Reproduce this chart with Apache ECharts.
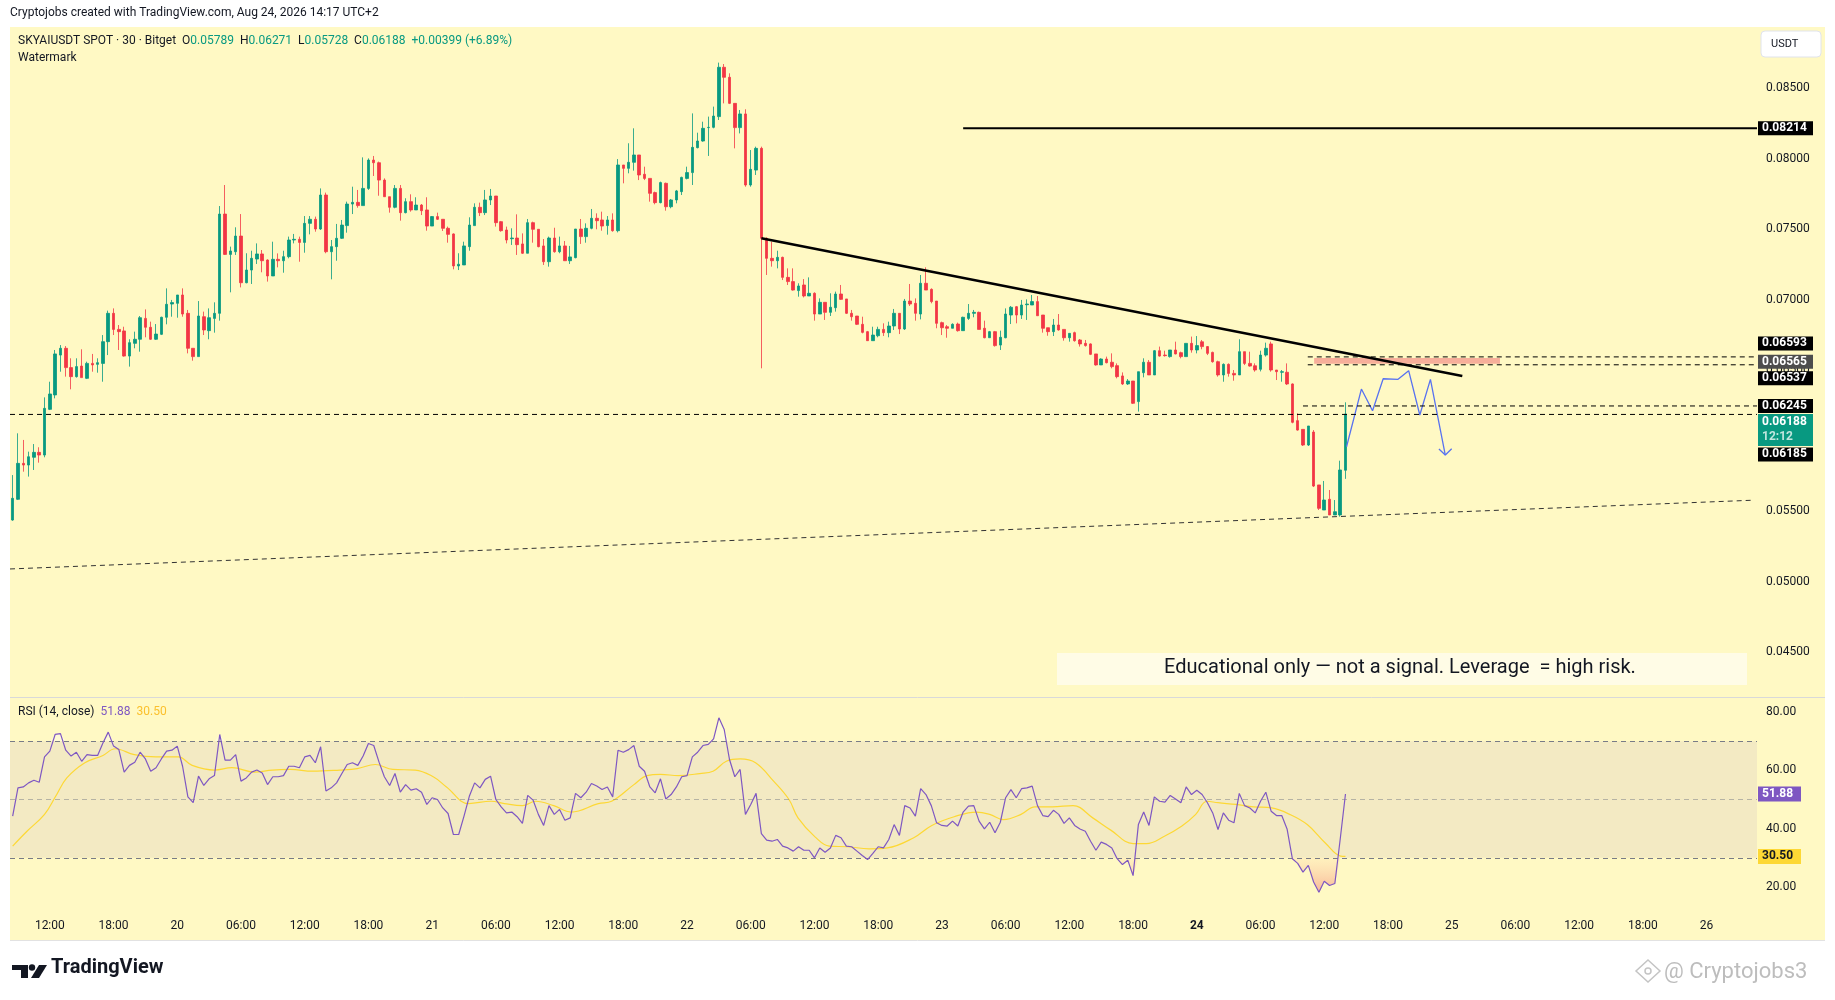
<!DOCTYPE html>
<html>
<head>
<meta charset="utf-8">
<title>SKYAIUSDT 30m</title>
<style>
  html, body { margin: 0; padding: 0; background: #fff; }
  #chart { width: 1835px; height: 1000px; }
</style>
</head>
<body>
<div id="chart"></div>
<script src="https://cdn.jsdelivr.net/npm/echarts@6/dist/echarts.min.js"></script>
<script>
// 30 min candles, Aug 19 08:30 -> Aug 24 14:00
var openP = [
  0.05436,0.05583,0.05838,0.05826,0.05881,0.05916,0.05897,0.06221,0.06323,0.06606,
  0.06654,0.06517,0.06453,0.06528,0.06441,0.06547,0.06540,0.06547,0.06701,0.06902,
  0.06788,0.06777,0.06599,0.06689,0.06718,0.06866,0.06803,0.06718,0.06753,0.06874,
  0.06968,0.06973,0.07032,0.06902,0.06654,0.06595,0.06878,0.06779,0.06866,0.06902,
  0.07606,0.07320,0.07339,0.07450,0.07119,0.07209,0.07287,0.07323,0.07280,0.07167,
  0.07285,0.07275,0.07304,0.07422,0.07427,0.07405,0.07540,0.07569,0.07500,0.07741,
  0.07339,0.07375,0.07434,0.07524,0.07677,0.07689,0.07666,0.07788,0.07989,0.07970,
  0.07847,0.07729,0.07654,0.07788,0.07616,0.07694,0.07635,0.07670,0.07635,0.07521,
  0.07588,0.07569,0.07505,0.07465,0.07238,0.07245,0.07375,0.07524,0.07654,0.07616,
  0.07706,0.07734,0.07552,0.07493,0.07431,0.07436,0.07394,0.07328,0.07545,0.07498,
  0.07380,0.07268,0.07436,0.07339,0.07380,0.07275,0.07297,0.07500,0.07446,0.07505,
  0.07576,0.07564,0.07524,0.07564,0.07488,0.07954,0.07930,0.07973,0.08025,0.07888,
  0.07859,0.07758,0.07687,0.07824,0.07658,0.07706,0.07765,0.07859,0.07900,0.08077,
  0.08124,0.08219,0.08221,0.08297,0.08647,0.08576,0.08391,0.08219,0.08316,0.07812,
  0.07918,0.08072,0.07434,0.07292,0.07275,0.07299,0.07157,0.07127,0.07063,0.07103,
  0.07025,0.07044,0.06897,0.06980,0.06909,0.06942,0.07039,0.07004,0.06902,0.06883,
  0.06824,0.06772,0.06708,0.06743,0.06788,0.06765,0.06812,0.06902,0.06791,0.06989,
  0.06973,0.06897,0.07115,0.07072,0.06989,0.06836,0.06807,0.06796,0.06826,0.06779,
  0.06866,0.06902,0.06909,0.06796,0.06729,0.06772,0.06677,0.06729,0.06890,0.06949,
  0.06890,0.06963,0.06961,0.06985,0.06890,0.06800,0.06772,0.06819,0.06788,0.06729,
  0.06765,0.06713,0.06689,0.06685,0.06614,0.06536,0.06578,0.06555,0.06531,0.06458,
  0.06401,0.06422,0.06276,0.06481,0.06555,0.06465,0.06637,0.06606,0.06595,0.06642,
  0.06623,0.06595,0.06689,0.06642,0.06700,0.06666,0.06625,0.06559,0.06465,0.06540,
  0.06476,0.06465,0.06630,0.06547,0.06530,0.06505,0.06606,0.06685,0.06500,0.06484,
  0.06484,0.06401,0.06141,0.06079,0.05968,0.06060,0.05685,0.05507,0.05583,0.05472,
  0.05472,0.05789
];
var highP = [
  0.05755,0.06051,0.06004,0.05921,0.05975,0.05952,0.06306,0.06417,0.06642,0.06677,
  0.06670,0.06583,0.06583,0.06647,0.06559,0.06614,0.06583,0.06748,0.06921,0.06937,
  0.06819,0.06807,0.06718,0.06772,0.06883,0.06930,0.06843,0.06826,0.06878,0.07079,
  0.06997,0.07032,0.07079,0.06926,0.06654,0.06989,0.06914,0.06937,0.06980,0.07663,
  0.07812,0.07375,0.07512,0.07606,0.07328,0.07346,0.07398,0.07351,0.07285,0.07410,
  0.07327,0.07346,0.07446,0.07465,0.07446,0.07592,0.07592,0.07588,0.07788,0.07758,
  0.07422,0.07536,0.07564,0.07694,0.07800,0.07777,0.08008,0.08001,0.08018,0.07978,
  0.07859,0.07729,0.07812,0.07812,0.07718,0.07746,0.07725,0.07677,0.07725,0.07592,
  0.07616,0.07569,0.07517,0.07469,0.07328,0.07410,0.07583,0.07682,0.07687,0.07777,
  0.07784,0.07734,0.07557,0.07517,0.07505,0.07604,0.07469,0.07571,0.07552,0.07498,
  0.07429,0.07446,0.07509,0.07446,0.07415,0.07380,0.07500,0.07571,0.07540,0.07642,
  0.07611,0.07623,0.07592,0.07611,0.07996,0.07954,0.08108,0.08214,0.08025,0.07942,
  0.07859,0.07765,0.07836,0.07829,0.07713,0.07777,0.07871,0.07942,0.08320,0.08183,
  0.08261,0.08297,0.08368,0.08680,0.08670,0.08604,0.08391,0.08344,0.08349,0.08060,
  0.08084,0.08084,0.07441,0.07410,0.07346,0.07304,0.07221,0.07221,0.07115,0.07145,
  0.07157,0.07051,0.07008,0.06980,0.07044,0.07056,0.07103,0.07004,0.06926,0.06883,
  0.06878,0.06777,0.06807,0.06807,0.06831,0.06843,0.06933,0.06902,0.07004,0.07110,
  0.07008,0.07174,0.07228,0.07079,0.06989,0.06843,0.06819,0.06831,0.06836,0.06878,
  0.06968,0.06926,0.06914,0.06850,0.06777,0.06777,0.06779,0.06937,0.06954,0.06954,
  0.06997,0.07001,0.07032,0.07025,0.06890,0.06800,0.06862,0.06897,0.06788,0.06760,
  0.06772,0.06720,0.06713,0.06689,0.06614,0.06583,0.06595,0.06618,0.06547,0.06483,
  0.06436,0.06422,0.06488,0.06583,0.06571,0.06642,0.06666,0.06637,0.06642,0.06701,
  0.06630,0.06689,0.06737,0.06741,0.06713,0.06670,0.06630,0.06566,0.06547,0.06547,
  0.06500,0.06718,0.06630,0.06630,0.06547,0.06637,0.06694,0.06701,0.06500,0.06500,
  0.06547,0.06405,0.06193,0.06079,0.06103,0.06074,0.05685,0.05713,0.05649,0.05578,
  0.05857,0.06271
];
var lowP = [
  0.05431,0.05578,0.05779,0.05744,0.05791,0.05843,0.05881,0.06216,0.06299,0.06488,
  0.06453,0.06363,0.06446,0.06446,0.06436,0.06488,0.06481,0.06417,0.06606,0.06748,
  0.06642,0.06595,0.06524,0.06654,0.06630,0.06732,0.06713,0.06713,0.06748,0.06824,
  0.06878,0.06871,0.06878,0.06618,0.06566,0.06595,0.06748,0.06718,0.06765,0.06850,
  0.07316,0.07051,0.07316,0.07086,0.07115,0.07110,0.07252,0.07193,0.07127,0.07167,
  0.07228,0.07190,0.07292,0.07398,0.07268,0.07332,0.07462,0.07481,0.07493,0.07328,
  0.07143,0.07275,0.07429,0.07474,0.07606,0.07651,0.07666,0.07777,0.07876,0.07736,
  0.07729,0.07616,0.07647,0.07559,0.07611,0.07623,0.07635,0.07599,0.07488,0.07521,
  0.07564,0.07486,0.07403,0.07214,0.07209,0.07245,0.07346,0.07524,0.07592,0.07599,
  0.07670,0.07517,0.07481,0.07398,0.07387,0.07316,0.07323,0.07328,0.07403,0.07370,
  0.07245,0.07233,0.07332,0.07328,0.07275,0.07252,0.07292,0.07394,0.07403,0.07498,
  0.07498,0.07488,0.07460,0.07481,0.07476,0.07824,0.07895,0.07914,0.07847,0.07847,
  0.07694,0.07675,0.07682,0.07630,0.07647,0.07682,0.07741,0.07852,0.07812,0.08072,
  0.08119,0.08018,0.08214,0.08273,0.08391,0.08386,0.08072,0.08178,0.07800,0.07800,
  0.07883,0.06512,0.07174,0.07233,0.07221,0.07138,0.07103,0.07063,0.07020,0.07015,
  0.07025,0.06850,0.06897,0.06855,0.06883,0.06914,0.06997,0.06897,0.06850,0.06819,
  0.06760,0.06708,0.06708,0.06732,0.06741,0.06732,0.06784,0.06755,0.06784,0.06954,
  0.06850,0.06859,0.07067,0.06973,0.06796,0.06748,0.06729,0.06796,0.06772,0.06779,
  0.06855,0.06874,0.06788,0.06725,0.06729,0.06666,0.06642,0.06725,0.06826,0.06831,
  0.06862,0.06855,0.06961,0.06885,0.06765,0.06743,0.06741,0.06779,0.06708,0.06701,
  0.06701,0.06666,0.06666,0.06606,0.06531,0.06536,0.06547,0.06512,0.06441,0.06394,
  0.06394,0.06259,0.06205,0.06448,0.06465,0.06465,0.06595,0.06595,0.06588,0.06611,
  0.06583,0.06595,0.06623,0.06618,0.06647,0.06606,0.06552,0.06453,0.06417,0.06453,
  0.06424,0.06465,0.06535,0.06524,0.06488,0.06490,0.06595,0.06488,0.06429,0.06417,
  0.06394,0.06122,0.06070,0.05961,0.05961,0.05670,0.05507,0.05507,0.05472,0.05472,
  0.05460,0.05728
];
var closeP = [
  0.05590,0.05838,0.05826,0.05885,0.05916,0.05897,0.06228,0.06330,0.06614,0.06654,
  0.06517,0.06453,0.06524,0.06446,0.06547,0.06536,0.06552,0.06701,0.06902,0.06788,
  0.06772,0.06599,0.06694,0.06718,0.06871,0.06803,0.06718,0.06755,0.06874,0.06966,
  0.06978,0.07032,0.06897,0.06654,0.06595,0.06883,0.06784,0.06871,0.06902,0.07606,
  0.07320,0.07344,0.07450,0.07119,0.07209,0.07292,0.07323,0.07275,0.07167,0.07285,
  0.07275,0.07304,0.07422,0.07427,0.07405,0.07540,0.07569,0.07500,0.07741,0.07339,
  0.07375,0.07434,0.07528,0.07677,0.07689,0.07666,0.07788,0.07989,0.07970,0.07847,
  0.07729,0.07654,0.07788,0.07616,0.07694,0.07635,0.07670,0.07630,0.07521,0.07588,
  0.07569,0.07505,0.07462,0.07238,0.07250,0.07380,0.07528,0.07654,0.07616,0.07706,
  0.07734,0.07545,0.07488,0.07422,0.07436,0.07389,0.07328,0.07545,0.07498,0.07375,
  0.07268,0.07436,0.07339,0.07380,0.07275,0.07302,0.07500,0.07446,0.07505,0.07576,
  0.07559,0.07521,0.07564,0.07488,0.07954,0.07930,0.07973,0.08025,0.07883,0.07859,
  0.07753,0.07687,0.07829,0.07658,0.07706,0.07770,0.07866,0.07900,0.08079,0.08124,
  0.08214,0.08221,0.08301,0.08647,0.08576,0.08391,0.08219,0.08316,0.07812,0.07923,
  0.08072,0.07434,0.07292,0.07275,0.07299,0.07157,0.07127,0.07067,0.07096,0.07025,
  0.07044,0.06897,0.06980,0.06909,0.06945,0.07039,0.07001,0.06902,0.06878,0.06824,
  0.06767,0.06708,0.06748,0.06788,0.06765,0.06812,0.06902,0.06791,0.06989,0.06968,
  0.06902,0.07115,0.07067,0.06985,0.06831,0.06800,0.06796,0.06824,0.06779,0.06874,
  0.06902,0.06909,0.06788,0.06729,0.06772,0.06673,0.06732,0.06897,0.06945,0.06890,
  0.06961,0.06968,0.06985,0.06885,0.06796,0.06772,0.06819,0.06784,0.06729,0.06760,
  0.06708,0.06685,0.06673,0.06611,0.06536,0.06578,0.06552,0.06524,0.06453,0.06401,
  0.06422,0.06264,0.06488,0.06555,0.06465,0.06637,0.06599,0.06602,0.06642,0.06614,
  0.06595,0.06689,0.06642,0.06673,0.06666,0.06618,0.06559,0.06465,0.06540,0.06476,
  0.06465,0.06630,0.06547,0.06528,0.06500,0.06606,0.06654,0.06500,0.06488,0.06488,
  0.06401,0.06129,0.06074,0.05968,0.06103,0.05677,0.05519,0.05578,0.05472,0.05495,
  0.05791,0.06188
];

var rsiVals = [
  44.3,54,54.3,55.7,56.6,55.9,64.6,66.6,72.3,72.6,
  66.9,64.9,66.2,63.1,65.4,65.1,65.1,69.4,73.1,68.3,
  67.1,59.4,61.7,62.8,66.2,63.9,59.7,60.9,63.9,66.6,
  66.9,68.3,61.4,50.9,48.9,58,54.8,57.1,58.2,72.3,
  63.5,63.5,65.4,56.3,57.4,59.4,60.1,59.1,55.1,57.8,
  57.8,58.2,61.4,61.4,60.9,64.6,65.1,62.6,68.1,52.9,
  54,55.7,58.9,62,62.6,61.7,64.9,69.2,68.5,62.8,
  57.8,54.8,58.9,52.5,55.1,53.2,53.7,52.5,48.3,50.6,
  50,47.1,45.2,38,38,44.3,51.1,55.7,54,56.9,
  58,50,47.5,45.4,45.7,44.1,41.8,51.4,49.8,44.9,
  41.1,47.9,44.9,46.6,42.9,43.7,52.1,50.6,52.5,55.5,
  54.6,53.4,54.3,50.9,66.9,66.2,67.1,68.5,61.4,59.7,
  54.3,52.3,57.1,50.2,51.7,54.3,57.8,58.2,64.6,66.2,
  68.5,68.9,70.8,78,74,63.7,57.8,60.3,44.9,48.3,
  52.1,38.3,36.1,35.7,36.3,34,33.4,32.3,33.8,32.6,
  32.6,30,33.4,31.9,33.4,37.7,36.9,34,33.8,32.3,
  30.8,29.4,31.5,33.8,33.4,36.3,41.4,37.7,47.9,47.1,
  44.3,53.7,51.7,47.9,42,41.1,40.9,42.6,40.9,45.7,
  47.7,47.9,42.6,39.9,42.2,38.6,42.2,50.6,53.4,50.6,
  53.7,54,54.6,47.9,44.5,44.1,46.3,44.9,41.8,43.7,
  41.1,39.9,39.1,35.7,32.6,35.4,34.6,33.4,29.7,27.7,
  29.2,23.9,41.4,45.7,41.1,50.9,49.4,49.1,51.4,50.2,
  48.9,54.3,51.7,53.2,51.7,48.9,45.4,39.7,45.4,42.9,
  42,52.1,47.9,47.1,45.4,49.4,52.5,46,44.5,44.5,
  39.9,29.7,28.1,25.1,27.4,21.7,18.2,22,20.5,21.2,
  36.3,51.88
];
var rsiMaPts = [
  [0,34.0],[2.7,39.1],[6,44.9],[8.1,51.1],[10.2,57.4],[13.6,62.6],[17,65.1],[19.3,67.4],
  [22.9,65.4],[27,64.6],[31.2,64.6],[33.8,61.7],[38,60.1],[41.3,60.9],[45.5,59.4],[48.9,60.1],
  [52.3,60.3],[56.5,59.7],[61.6,60.1],[64.9,60.6],[68.3,62.0],[71.6,60.3],[75.8,60.1],[79.2,57.8],
  [81.7,54.3],[85.9,48.6],[90.1,49.4],[92.6,48.6],[96,47.9],[98.5,49.4],[101.9,47.9],[105.2,45.7],
  [110.3,48.6],[112.8,49.4],[117,55.1],[119.5,58.2],[122,58.6],[125.4,58.2],[129.4,58.9],[131.9,59.7],
  [134.4,63.1],[137,63.9],[139.9,62.6],[143.3,56.3],[146.2,50.0],[147.9,43.7],[151.1,37.2],[153.8,34.0],
  [157.2,33.8],[161.3,33.1],[164.7,33.4],[169.7,36.9],[173.1,41.1],[177.3,44.1],[181.5,45.7],[184,44.9],
  [186.6,43.1],[189.9,44.9],[192.5,47.5],[195.8,47.5],[199.7,47.9],[203.4,43.7],[206.8,39.5],[211,34.9],
  [213.5,34.9],[216.9,37.4],[220.2,40.9],[222.8,44.9],[224.9,49.4],[227,48.9],[230.4,48.3],[233.7,47.5],
  [237.1,47.1],[240.5,44.9],[243.8,41.4],[247.2,35.1],[250.1,30.6],[251,30.5]
];

var priceTicks = [0.045, 0.050, 0.055, 0.060, 0.065, 0.070, 0.075, 0.080, 0.085];
var rsiTicks = [20, 40, 60, 80];

// drawings, [bar index, price]
var resistanceLine = [[179, 0.08214], [328.5, 0.08214]];
var trendLine = [[141, 0.07434], [273, 0.06457]];
var supportLine = [[-0.5, 0.05089], [327.3, 0.05576]];
var levelLines = [
  [[-0.5, 0.06185], [328.5, 0.06185]],
  [[243, 0.06245], [328.5, 0.06245]],
  [[243.9, 0.06593], [328.5, 0.06593]],
  [[243.9, 0.06537], [328.5, 0.06537]]
];
var zoneBox = [[245.1, 0.06585], [280.1, 0.06545]];
var projectionPath = [[251.2,0.05956],[254.0,0.06365],[256.1,0.06211],[258.1,0.06438],
  [260.9,0.06434],[262.9,0.06495],[265.0,0.06181],[267.0,0.06434],[269.8,0.05897]];
var arrowHead = [[268.6,0.05940],[269.8,0.05897],[271.0,0.05942]];

var priceTags = [
  { v: 0.08214, text: '0.08214', bg: '#000000', dy: 0 },
  { v: 0.06593, text: '0.06593', bg: '#000000', dy: -13.5 },
  { v: 0.06565, text: '0.06565', bg: '#4d4d4d', dy: 1 },
  { v: 0.06537, text: '0.06537', bg: '#000000', dy: 13.5 },
  { v: 0.06245, text: '0.06245', bg: '#000000', dy: 0 },
  { v: 0.06188, text: '0.06188', bg: '#089981', dy: 8, sub: '12:12' },
  { v: 0.06185, text: '0.06185', bg: '#000000', dy: 40 }
];
var rsiTags = [
  { v: 51.88, text: '51.88', bg: '#7E57C2', fg: '#ffffff' },
  { v: 30.50, text: '30.50', bg: '#FDD835', fg: '#131722' }
];

var slotCount = 329;
var startMin = 8 * 60 + 30;
function pad(n) { return n < 10 ? '0' + n : '' + n; }
var timeCats = [];
for (var i = 0; i < slotCount; i++) {
  var t = startMin + 30 * i;
  var m = t % 1440;
  timeCats.push((19 + Math.floor(t / 1440)) + ' ' + pad(Math.floor(m / 60)) + ':' + pad(m % 60));
}

var candleData = openP.map(function (o, k) {
  return [o, closeP[k], lowP[k], highP[k]];
});
var overSold = rsiVals.map(function (v) { return v < 30 ? v : 30; });
var overBought = rsiVals.map(function (v) { return v > 70 ? v : 70; });

var FONT = 'Roboto, "Noto Sans", sans-serif';
var INK = '#131722';

var dom = document.getElementById('chart');
var myChart = echarts.init(dom);

function segSeries(pts, color, width, dashed) {
  return {
    type: 'line', xAxisIndex: 2, yAxisIndex: 0, data: pts,
    symbol: 'none', silent: true, z: 4,
    lineStyle: { color: color, width: width, type: dashed ? [5, 4] : 'solid' }
  };
}

var series = [
  {
    type: 'candlestick', xAxisIndex: 0, yAxisIndex: 0, data: candleData,
    barWidth: 3, z: 3,
    itemStyle: { color: '#089981', color0: '#F23645', borderColor: '#089981', borderColor0: '#F23645', borderWidth: 0.8 }
  },
  segSeries(resistanceLine, '#000000', 2, false),
  segSeries(trendLine, '#000000', 2.5, false),
  segSeries(supportLine, '#333333', 1, true),
  {
    type: 'line', xAxisIndex: 2, yAxisIndex: 0, data: [], symbol: 'none', silent: true,
    markArea: {
      silent: true,
      itemStyle: { color: 'rgba(244,150,140,0.75)' },
      data: [[{ coord: zoneBox[0] }, { coord: zoneBox[1] }]]
    }
  },
  segSeries(projectionPath, '#5872F0', 1.3, false),
  segSeries(arrowHead, '#5872F0', 1.3, false),
  // RSI pane
  {
    type: 'line', xAxisIndex: 1, yAxisIndex: 1, data: overBought, symbol: 'none', silent: true,
    lineStyle: { width: 0 },
    areaStyle: { origin: 70, color: 'rgba(255,255,255,0.45)' }
  },
  {
    type: 'line', xAxisIndex: 1, yAxisIndex: 1, data: overSold, symbol: 'none', silent: true,
    lineStyle: { width: 0 },
    areaStyle: {
      origin: 30,
      color: new echarts.graphic.LinearGradient(0, 0, 0, 1, [
        { offset: 0, color: 'rgba(255,215,170,0.35)' },
        { offset: 1, color: 'rgba(242,120,110,0.75)' }
      ])
    }
  },
  {
    type: 'line', xAxisIndex: 3, yAxisIndex: 1, data: rsiMaPts, symbol: 'none', silent: true,
    smooth: 0.4, z: 4,
    lineStyle: { color: '#FDD835', width: 1.2 }
  },
  {
    type: 'line', xAxisIndex: 1, yAxisIndex: 1, data: rsiVals, symbol: 'none', silent: true, z: 5,
    lineStyle: { color: '#7E57C2', width: 1.2 },
    markArea: {
      silent: true,
      itemStyle: { color: 'rgba(126,87,194,0.09)' },
      data: [[{ yAxis: 70 }, { yAxis: 30 }]]
    },
    markLine: {
      silent: true, symbol: 'none', label: { show: false },
      data: [
        { yAxis: 70, lineStyle: { color: '#787B86', type: [5, 4], width: 1 } },
        { yAxis: 50, lineStyle: { color: 'rgba(120,123,134,0.5)', type: [5, 4], width: 1 } },
        { yAxis: 30, lineStyle: { color: '#787B86', type: [5, 4], width: 1 } }
      ]
    }
  }
];
levelLines.forEach(function (seg) { series.push(segSeries(seg, '#000000', 1, true)); });

var option = {
  animation: false,
  backgroundColor: '#ffffff',
  textStyle: { fontFamily: FONT },
  title: [
    { text: 'Cryptojobs created with TradingView.com, Aug 24, 2026 14:17 UTC+2', left: 10, top: 7, padding: 0,
      textStyle: { fontSize: 12, fontWeight: 'normal', color: INK, fontFamily: FONT } },
    { text: '{a|SKYAIUSDT SPOT · 30 · Bitget}  {a|O}{g|0.05789}  {a|H}{g|0.06271}  {a|L}{g|0.05728}  {a|C}{g|0.06188}  {g|+0.00399 (+6.89%)}',
      left: 18, top: 35, padding: 0,
      textStyle: { fontSize: 12, fontWeight: 'normal', fontFamily: FONT,
        rich: { a: { color: INK, fontSize: 12, fontFamily: FONT }, g: { color: '#089981', fontSize: 12, fontFamily: FONT } } } },
    { text: 'Watermark', left: 18, top: 52, padding: 0,
      textStyle: { fontSize: 12, fontWeight: 'normal', color: INK, fontFamily: FONT } },
    { text: '{a|RSI (14, close)}  {p|51.88}  {y|30.50}', left: 18, top: 706, padding: 0,
      textStyle: { fontSize: 12, fontWeight: 'normal', fontFamily: FONT,
        rich: { a: { color: INK, fontSize: 12, fontFamily: FONT }, p: { color: '#7E57C2', fontSize: 12, fontFamily: FONT }, y: { color: '#FBC02D', fontSize: 12, fontFamily: FONT } } } },
    { text: 'Educational only — not a signal. Leverage  = high risk.', left: 1400, top: 658, padding: 0, textAlign: 'center',
      textStyle: { fontSize: 20, fontWeight: 'normal', color: INK, fontFamily: FONT } },
    { text: 'TradingView', left: 51, top: 958, padding: 0,
      textStyle: { fontSize: 20, fontWeight: 'bold', color: INK, fontFamily: FONT } },
    { text: '@ Cryptojobs3', left: 1664, top: 961, padding: 0,
      textStyle: { fontSize: 22, fontWeight: 'normal', color: '#bdbdbd', fontFamily: FONT } }
  ],
  grid: [
    { left: 10, top: 27, width: 1747, height: 670 },
    { left: 10, top: 697, width: 1747, height: 208 }
  ],
  xAxis: [
    { type: 'category', gridIndex: 0, data: timeCats, boundaryGap: true,
      axisLine: { show: false }, axisTick: { show: false }, axisLabel: { show: false }, splitLine: { show: false } },
    { type: 'category', gridIndex: 1, data: timeCats, boundaryGap: true,
      axisLine: { show: false }, axisTick: { show: false }, splitLine: { show: false },
      axisLabel: {
        margin: 15, color: INK, fontSize: 12, fontFamily: FONT,
        interval: function (idx, val) {
          var hm = val.split(' ')[1];
          return hm.slice(3) === '00' && (+hm.slice(0, 2)) % 6 === 0;
        },
        formatter: function (val) {
          var parts = val.split(' ');
          if (parts[1] === '00:00') return parts[0] === '24' ? '{b|24}' : parts[0];
          return parts[1];
        },
        rich: { b: { fontWeight: 'bold', color: INK, fontSize: 12, fontFamily: FONT } }
      } },
    { type: 'value', gridIndex: 0, min: -0.5, max: 328.5, show: false },
    { type: 'value', gridIndex: 1, min: -0.5, max: 328.5, show: false }
  ],
  yAxis: [
    { type: 'value', gridIndex: 0, position: 'right', min: 0.04181, max: 0.089326, scale: true,
      axisLine: { show: false }, axisTick: { show: false }, splitLine: { show: false },
      axisLabel: { customValues: priceTicks, margin: 9, color: INK, fontSize: 12, fontFamily: FONT,
        formatter: function (v) { return v.toFixed(5); } } },
    { type: 'value', gridIndex: 1, position: 'right', min: 13.83, max: 85.14,
      axisLine: { show: false }, axisTick: { show: false }, splitLine: { show: false },
      axisLabel: { customValues: rsiTicks, margin: 9, color: INK, fontSize: 12, fontFamily: FONT,
        formatter: function (v) { return v.toFixed(2); } } }
  ],
  series: series
};

option.graphic = [
  { type: 'rect', z: -10, silent: true, shape: { x: 10, y: 27, width: 1815, height: 913 }, style: { fill: '#FFF9C4' } },
  { type: 'line', z: 1, silent: true, shape: { x1: 10, y1: 697.5, x2: 1825, y2: 697.5 }, style: { stroke: '#D9D9D9', lineWidth: 1 } },
  { type: 'line', z: 1, silent: true, shape: { x1: 10, y1: 940.5, x2: 1825, y2: 940.5 }, style: { stroke: '#E2E2E2', lineWidth: 1 } },
  { type: 'rect', z: 1, silent: true, shape: { x: 1057, y: 653, width: 690, height: 32 }, style: { fill: '#FFFCE6' } },
  { type: 'rect', z: 20, silent: true, shape: { x: 1761, y: 31, width: 60, height: 26, r: 4 }, style: { fill: '#ffffff', stroke: '#E0E3EB', lineWidth: 1 } },
  { type: 'text', z: 21, silent: true, style: { text: 'USDT', x: 1771, y: 44, fill: INK, font: '11px ' + FONT, verticalAlign: 'middle' } },
  // TradingView mark
  { type: 'polygon', silent: true, shape: { points: [[12, 965], [28, 965], [28, 978], [21, 978], [21, 970], [12, 970]] }, style: { fill: INK } },
  { type: 'circle', silent: true, shape: { cx: 32, cy: 967.5, r: 3.2 }, style: { fill: INK } },
  { type: 'polygon', silent: true, shape: { points: [[39, 965], [47, 965], [39, 978], [31, 978]] }, style: { fill: INK } },
  // watermark badge
  { type: 'polygon', silent: true, shape: { points: [[1648, 960], [1660, 971], [1648, 982], [1636, 971]] }, style: { fill: 'none', stroke: '#c4c4c4', lineWidth: 1.5 } },
  { type: 'circle', silent: true, shape: { cx: 1648, cy: 971, r: 3 }, style: { fill: 'none', stroke: '#c4c4c4', lineWidth: 1.5 } }
];

myChart.setOption(option);

// price / indicator tags on the right scale
var tagGraphics = [];
priceTags.forEach(function (tg) {
  var cy = myChart.convertToPixel({ yAxisIndex: 0 }, tg.v) + tg.dy;
  var h = tg.sub ? 32 : 14;
  tagGraphics.push({ type: 'rect', z: 30, silent: true,
    shape: { x: 1758, y: cy - (tg.sub ? 8 : h / 2), width: 55, height: h }, style: { fill: tg.bg } });
  tagGraphics.push({ type: 'text', z: 31, silent: true,
    style: { text: tg.text, x: 1762, y: cy, fill: '#ffffff', font: 'bold 12px ' + FONT, verticalAlign: 'middle' } });
  if (tg.sub) {
    tagGraphics.push({ type: 'text', z: 31, silent: true,
      style: { text: tg.sub, x: 1762, y: cy + 15, fill: '#BFE6DE', font: 'bold 12px ' + FONT, verticalAlign: 'middle' } });
  }
});
rsiTags.forEach(function (tg) {
  var cy = myChart.convertToPixel({ yAxisIndex: 1 }, tg.v);
  tagGraphics.push({ type: 'rect', z: 30, silent: true,
    shape: { x: 1758, y: cy - 7.5, width: 43, height: 15 }, style: { fill: tg.bg } });
  tagGraphics.push({ type: 'text', z: 31, silent: true,
    style: { text: tg.text, x: 1762, y: cy, fill: tg.fg, font: 'bold 12px ' + FONT, verticalAlign: 'middle' } });
});
myChart.setOption({ graphic: option.graphic.concat(tagGraphics) });
</script>
</body>
</html>
